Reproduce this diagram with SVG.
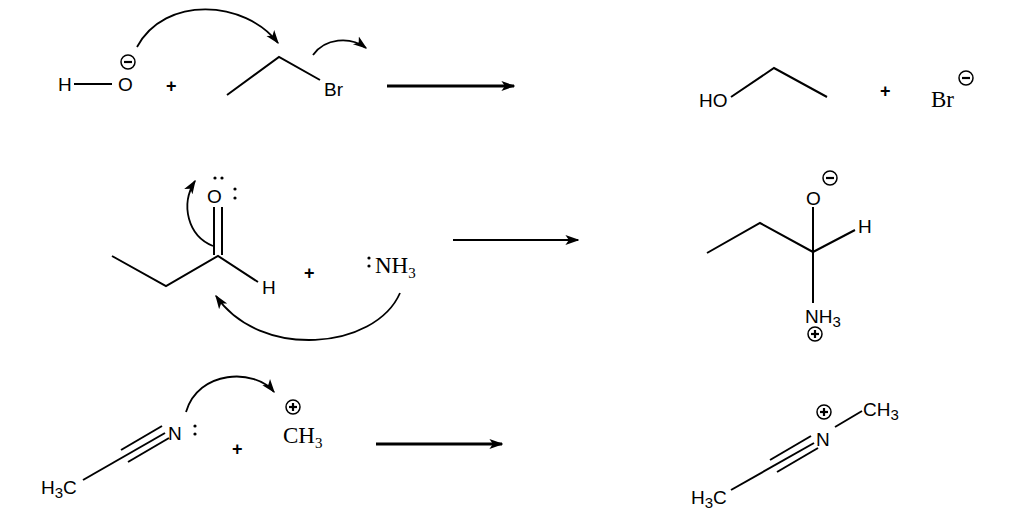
<svg xmlns="http://www.w3.org/2000/svg" width="1024" height="523" viewBox="0 0 1024 523">
<style>
.b{stroke:#000;stroke-width:2;fill:none}
.c{stroke:#000;stroke-width:1.8;fill:none}
.s{font-family:"Liberation Sans",Arial,sans-serif;font-size:19px;fill:#000}
.r{font-family:"Liberation Serif","Times New Roman",serif;font-size:23px;fill:#000}
.sub{font-size:15px}
.p{font-family:"Liberation Sans",Arial,sans-serif;font-size:18px;font-weight:bold}
</style>
<defs>
<marker id="ah2" viewBox="0 0 10 10" refX="9" refY="5" markerWidth="14" markerHeight="14" orient="auto" markerUnits="userSpaceOnUse"><path d="M0,1.5 L10,5 L0,8.5 L2.5,5z"/></marker>
<g id="minus"><circle r="7" fill="none" stroke="#000" stroke-width="1.5"/><line x1="-4" x2="4" stroke="#000" stroke-width="2.2"/></g>
<g id="plusc"><circle r="7" fill="none" stroke="#000" stroke-width="1.5"/><line x1="-4" x2="4" stroke="#000" stroke-width="2.2"/><line y1="-4" y2="4" stroke="#000" stroke-width="2.2"/></g>
</defs>
<rect width="1024" height="523" fill="#fff"/>

<g id="hydroxide">
<text class="s" x="58" y="91">H</text>
<line class="b" x1="74" y1="84" x2="112" y2="84"/>
<text class="s" x="118" y="91">O</text>
<use href="#minus" x="128" y="62"/>
</g>
<text id="plus1" class="p" x="166" y="92">+</text>
<g id="bromoethane">
<polyline class="b" points="227,95 279,57 320,80"/>
<text class="s" x="324" y="96">Br</text>
</g>
<g id="ethanol">
<text class="s" x="699" y="107">HO</text>
<polyline class="b" points="731,97 774,68 827,97"/>
</g>
<text id="plus2" class="p" x="880" y="97">+</text>
<g id="bromide">
<text class="r" x="931" y="107">Br</text>
<use href="#minus" x="966" y="78"/>
</g>

<g id="propanal">
<polyline class="b" points="112,256 166,286 218,256 258,282"/>
<line class="b" x1="214" y1="255" x2="214" y2="207"/>
<line class="b" x1="222" y1="255" x2="222" y2="207"/>
<text class="s" x="207" y="203">O</text>
<circle cx="215" cy="178" r="1.6"/><circle cx="222" cy="178" r="1.6"/>
<circle cx="235" cy="189" r="1.6"/><circle cx="235" cy="198" r="1.6"/>
<text class="s" x="262" y="294">H</text>
</g>
<text id="plus3" class="p" x="304" y="279">+</text>
<g id="ammonia">
<circle cx="369" cy="258" r="1.6"/><circle cx="369" cy="266" r="1.6"/>
<text class="r" x="375" y="273">NH<tspan class="sub" dy="5">3</tspan></text>
</g>
<g id="adduct">
<polyline class="b" points="707,253 760,223 813,252 855,230"/>
<line class="b" x1="813" y1="252" x2="813" y2="207"/>
<line class="b" x1="813" y1="252" x2="813" y2="303"/>
<text class="s" x="806" y="205">O</text>
<use href="#minus" x="830" y="178"/>
<text class="s" x="858" y="233">H</text>
<text class="s" x="805" y="323">NH<tspan class="sub" dy="4">3</tspan></text>
<use href="#plusc" x="815" y="334"/>
</g>

<g id="acetonitrile">
<text class="s" x="41" y="494">H<tspan class="sub" dy="4">3</tspan><tspan dy="-4">C</tspan></text>
<line class="b" x1="83" y1="480" x2="165" y2="433"/>
<line class="b" x1="121" y1="450" x2="162" y2="426"/>
<line class="b" x1="128" y1="462" x2="169" y2="438"/>
<text class="s" x="168" y="440">N</text>
<circle cx="195" cy="426" r="1.6"/><circle cx="195" cy="434" r="1.6"/>
</g>
<text id="plus4" class="p" x="232" y="455">+</text>
<g id="methyl">
<use href="#plusc" x="293" y="407"/>
<text class="r" x="283" y="443">CH<tspan class="sub" dy="5">3</tspan></text>
</g>
<g id="nitrilium">
<text class="s" x="691" y="504">H<tspan class="sub" dy="4">3</tspan><tspan dy="-4">C</tspan></text>
<line class="b" x1="731" y1="490" x2="814" y2="443"/>
<line class="b" x1="770" y1="460" x2="811" y2="436"/>
<line class="b" x1="777" y1="472" x2="818" y2="448"/>
<text class="s" x="816" y="446">N</text>
<use href="#plusc" x="824" y="412"/>
<line class="b" x1="835" y1="427" x2="862" y2="411"/>
<text class="s" x="863" y="416">CH<tspan class="sub" dy="4">3</tspan></text>
</g>

<g id="connectors">
<line x1="387" y1="86" x2="514" y2="86" stroke="#000" stroke-width="3" marker-end="url(#ah2)"/>
<line x1="453" y1="240" x2="578" y2="240" stroke="#000" stroke-width="2" marker-end="url(#ah2)"/>
<line x1="376" y1="444" x2="502" y2="444" stroke="#000" stroke-width="3" marker-end="url(#ah2)"/>
<path class="c" d="M137,47 C165,-5 245,0 278,43" marker-end="url(#ah2)"/>
<path class="c" d="M313,55 C325,38 350,36 366,48" marker-end="url(#ah2)"/>
<path class="c" d="M213,246 C188,236 180,205 195,181" marker-end="url(#ah2)"/>
<path class="c" d="M400,293 C375,350 260,360 216,296" marker-end="url(#ah2)"/>
<path class="c" d="M186,412 C198,370 255,368 274,392" marker-end="url(#ah2)"/>
</g>
</svg>
